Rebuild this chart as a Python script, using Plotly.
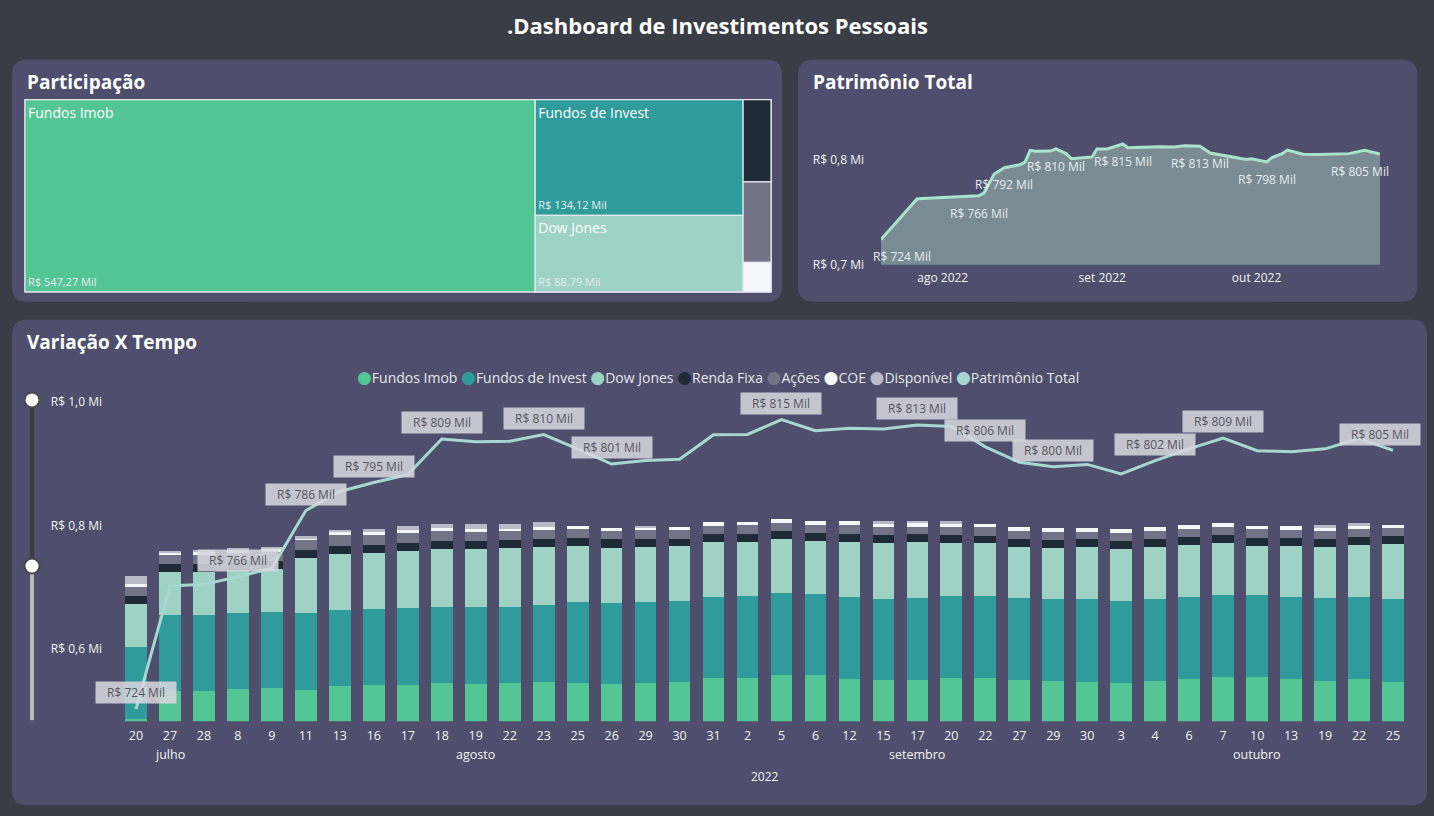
import plotly.graph_objects as go

W, H = 1434, 816
FONT = "Open Sans"

# the page photo maps figure y -> 0.9833*y + 5.4 ; positions below are given in photo pixels
SY, OY = 0.9833, 5.4


def px(x):
    return x / W


def py(y):
    return 1 - ((y - OY) / SY) / H


def dpy(d):
    return d / SY  # pixel distance in figure units


# ------------------------------------------------------------------ data
months = ["julho"] * 3 + ["agosto"] * 15 + ["setembro"] * 11 + ["outubro"] * 9
days = [20, 27, 28,
        8, 9, 11, 13, 16, 17, 18, 19, 22, 23, 25, 26, 29, 30, 31,
        2, 5, 6, 12, 15, 17, 20, 22, 27, 29, 30,
        3, 4, 6, 7, 10, 13, 19, 22, 25]
month_num = {"julho": 7, "agosto": 8, "setembro": 9, "outubro": 10}
year_label = "2022"

# components (R$ Mil)
fundos_imob = [486.1, 532.5, 532.5, 534.7, 537.4, 533.6, 540.1, 542.2, 542.2, 545.0,
               543.8, 545.4, 547.1, 545.4, 543.8, 545.4, 546.0, 553.5, 553.5, 558.4,
               557.9, 551.9, 550.3, 550.3, 553.5, 553.5, 549.8, 548.7, 547.1, 545.4,
               548.7, 551.9, 554.1, 554.7, 551.4, 548.7, 550.9, 547.3]
fundos_invest = [117.7, 122.5, 122.5, 123.1, 123.1, 124.1, 123.1, 123.1, 124.1, 123.6,
                 124.1, 123.1, 124.1, 131.1, 131.1, 131.1, 131.7, 131.1, 131.7, 131.7,
                 131.1, 131.7, 131.1, 132.8, 132.2, 132.2, 132.2, 132.2, 133.3, 132.8,
                 132.8, 132.8, 133.3, 132.8, 133.3, 133.3, 133.3, 134.1]
dow_jones = [69.1, 69.1, 69.1, 70.2, 69.1, 90.1, 90.7, 90.7, 92.3, 93.4,
             93.9, 94.4, 94.4, 89.6, 89.1, 89.1, 88.5, 88.5, 88.5, 88.0,
             86.4, 90.1, 90.1, 89.6, 85.3, 85.3, 83.7, 83.1, 84.2, 83.7,
             84.2, 84.2, 84.7, 79.9, 82.6, 83.7, 84.7, 88.8]
renda_fixa = [13.0, 13.0, 13.0, 13.0, 13.0, 13.0, 13.0, 13.0, 13.0, 12.4,
              13.0, 13.5, 12.4, 13.0, 13.5, 12.4, 12.4, 13.0, 13.0, 13.0,
              13.0, 13.0, 13.0, 13.0, 13.0, 12.4, 13.0, 12.4, 13.0, 13.0,
              12.4, 12.4, 13.0, 13.0, 13.0, 13.0, 13.0, 12.8]
acoes = [15.1, 14.6, 15.0, 15.0, 15.0, 15.1, 17.8, 15.7, 16.2, 17.3,
         15.1, 14.0, 15.1, 14.6, 13.5, 14.0, 14.0, 13.5, 13.5, 13.5,
         13.0, 13.5, 13.5, 12.4, 13.5, 13.5, 13.0, 13.0, 12.4, 13.0,
         13.5, 13.5, 13.0, 13.5, 13.0, 12.4, 11.9, 12.5]
coe = [4.3, 5.4, 5.5, 5.0, 5.0, 3.8, 4.3, 5.4, 4.3, 4.3,
       4.9, 4.3, 4.9, 5.4, 4.9, 5.4, 5.4, 5.4, 5.9, 5.4,
       5.4, 6.5, 5.9, 7.0, 5.4, 5.4, 5.4, 5.9, 5.4, 5.9,
       5.4, 5.4, 5.9, 5.9, 6.5, 4.9, 5.4, 5.0]
disponivel = [13.0, 0.5, 1.5, 2.0, 1.5, 2.7, 3.8, 4.3, 6.5, 6.5,
              7.0, 7.6, 7.0, 0.0, 0.0, 0.5, 0.0, 0.0, 0.0, 0.0,
              0.0, 0.0, 2.7, 2.7, 4.9, 0.0, 0.0, 0.0, 0.0, 0.0,
              0.0, 0.0, 0.0, 0.0, 0.0, 4.3, 5.4, 0.0]
patrimonio_total = [724.0, 762.7, 763.2, 765.6, 768.3, 786.4, 792.4, 795.2, 797.7, 808.9,
                    808.0, 808.2, 810.3, 805.8, 801.0, 802.1, 802.5, 810.2, 810.3, 815.0,
                    811.5, 812.3, 812.0, 813.3, 812.8, 806.4, 801.6, 800.2, 800.9, 797.9,
                    802.1, 805.8, 809.2, 805.2, 804.9, 805.8, 809.0, 805.3]
labels_bottom_idx = [0, 3, 5, 7, 9, 12, 14, 19, 23, 25, 27, 30, 32, 37]
labels_top_idx = [0, 3, 6, 12, 19, 24, 29, 37]

series_names = ["Fundos Imob", "Fundos de Invest", "Dow Jones", "Renda Fixa",
                "Ações", "COE", "Disponível"]
series_values = [fundos_imob, fundos_invest, dow_jones, renda_fixa, acoes, coe, disponivel]
series_colors = ["#54c594", "#309b9b", "#9dd2c5", "#1f2a37", "#727488", "#f6f7fb", "#b8bac8"]
line_color = "#a6d8d1"

# treemap (Participação)
tm_ids = ["root", "Fundos Imob", "g2", "Fundos de Invest", "Dow Jones",
          "g3", "Renda Fixa", "Ações", "COE"]
tm_parents = ["", "root", "root", "g2", "g2", "root", "g3", "g3", "g3"]
tm_values = [0, 547.27, 0, 134.12, 88.79, 0, 12.8, 12.5, 4.6]

# y-axis ticks
bar_ticks = [600, 800, 1000]
bar_ticktext = ["R$ 0,6 Mi", "R$ 0,8 Mi", "R$ 1,0 Mi"]
area_ticks = [700, 800]
area_ticktext = ["R$ 0,7 Mi", "R$ 0,8 Mi"]
area_month_ticks = ["2022-08-01", "2022-09-01", "2022-10-01"]
area_month_text = ["ago 2022", "set 2022", "out 2022"]

# ------------------------------------------------------------------ colours
BG = "#3a3c46"
PANEL = "#4f4f6d"
TXT = "#f2f2f2"

dates = [f"2022-{month_num[m]:02d}-{d:02d}" for m, d in zip(months, days)]
idx = list(range(len(days)))


def fmt_mil(v, dec=0):
    s = f"{v:.{dec}f}".replace(".", ",")
    return f"R$ {s} Mil"


fig = go.Figure()

# ------------------------------------------------------------------ treemap
panel_colors = {"root": PANEL, "g2": PANEL, "g3": PANEL}
leaf_colors = dict(zip(series_names, series_colors))
tm_colors = [panel_colors.get(i, leaf_colors.get(i, PANEL)) for i in tm_ids]
show_text = {"Fundos Imob", "Fundos de Invest", "Dow Jones"}
tm_top_text = [i if i in show_text else "" for i in tm_ids]
tm_bottom_text = [fmt_mil(v, 2) if i in show_text else "" for i, v in zip(tm_ids, tm_values)]

tm_domain = dict(x=[px(25), px(771)], y=[py(292), py(100)])
fig.add_trace(go.Treemap(
    ids=tm_ids, labels=tm_ids, parents=tm_parents, values=tm_values,
    branchvalues="remainder", sort=False,
    tiling=dict(packing="slice-dice", pad=0),
    marker=dict(colors=tm_colors, line=dict(color="#e4e6ee", width=1.2),
                pad=dict(t=0, l=0, r=0, b=0)),
    text=tm_top_text, texttemplate="%{text}", textposition="top left",
    textfont=dict(family=FONT, size=14, color="#ffffff"),
    pathbar=dict(visible=False), domain=tm_domain, hoverinfo="skip",
))
fig.add_trace(go.Treemap(
    ids=tm_ids, labels=tm_ids, parents=tm_parents, values=tm_values,
    branchvalues="remainder", sort=False,
    tiling=dict(packing="slice-dice", pad=0),
    marker=dict(colors=["rgba(0,0,0,0)"] * len(tm_ids), line=dict(width=0),
                pad=dict(t=0, l=0, r=0, b=0)),
    text=tm_bottom_text, texttemplate="%{text}", textposition="bottom left",
    textfont=dict(family=FONT, size=11, color="#e8ecef"),
    pathbar=dict(visible=False), domain=tm_domain, hoverinfo="skip",
))

# ------------------------------------------------------------------ area chart (Patrimônio Total)
fig.add_trace(go.Scatter(
    x=dates, y=patrimonio_total, mode="lines", xaxis="x", yaxis="y",
    line=dict(color="#a8e3cb", width=3), fill="tozeroy", fillcolor="#7a8b94",
    hoverinfo="skip",
))

annotations = []
for k, i in enumerate(labels_top_idx):
    xs = 0
    if k == 0:
        xs = 21
    elif k == len(labels_top_idx) - 1:
        xs = -20
    annotations.append(dict(
        x=dates[i], y=patrimonio_total[i], xref="x", yref="y", showarrow=False,
        text=fmt_mil(patrimonio_total[i]), yshift=-dpy(17), xshift=xs,
        font=dict(family=FONT, size=12, color="#e9ecef"),
    ))

# ------------------------------------------------------------------ stacked bars + line
for name, vals, col in zip(series_names, series_values, series_colors):
    fig.add_trace(go.Bar(
        x=idx, y=vals, name=name, marker=dict(color=col, line=dict(width=0)),
        xaxis="x2", yaxis="y2", hoverinfo="skip",
    ))
fig.add_trace(go.Scatter(
    x=idx, y=patrimonio_total, mode="lines", name="Patrimônio Total",
    line=dict(color=line_color, width=3), xaxis="x2", yaxis="y3", hoverinfo="skip",
))

for k, i in enumerate(labels_bottom_idx):
    annotations.append(dict(
        x=i, y=patrimonio_total[i], xref="x2", yref="y3", showarrow=False,
        text=fmt_mil(patrimonio_total[i]), yshift=dpy(16),
        xshift=-13 if k == len(labels_bottom_idx) - 1 else 0,
        font=dict(family=FONT, size=12, color="#55565e"),
        bgcolor="rgba(214,214,222,0.88)", width=74, height=15, borderpad=3,
    ))

# month labels centred under their days, year under all
for m in ["julho", "agosto", "setembro", "outubro"]:
    pos = [i for i, mm in zip(idx, months) if mm == m]
    annotations.append(dict(
        x=sum(pos) / len(pos), y=py(754), xref="x2", yref="paper", showarrow=False,
        text=m, font=dict(family=FONT, size=12.5, color=TXT), yanchor="middle",
    ))
annotations.append(dict(
    x=(idx[0] + idx[-1]) / 2, y=py(776), xref="x2", yref="paper", showarrow=False,
    text=year_label, font=dict(family=FONT, size=12, color=TXT), yanchor="middle",
))

# legend (text based, circle markers)
legend_names = series_names + ["Patrimônio Total"]
legend_colors = series_colors + [line_color]
legend_text = "&nbsp;".join(
    f"<span style='color:{c};font-family:DejaVu Sans;font-size:17px'>●</span>{n}"
    for n, c in zip(legend_names, legend_colors))
annotations.append(dict(
    x=px(718), y=py(377), xref="paper", yref="paper", showarrow=False,
    text=legend_text, font=dict(family=FONT, size=14, color="#e6e6ea"),
    xanchor="center", yanchor="middle",
))

# titles
annotations.append(dict(
    x=0.5, y=py(25), xref="paper", yref="paper", showarrow=False,
    text="<b>.Dashboard de Investimentos Pessoais</b>",
    font=dict(family=FONT, size=22, color="#ffffff"), yanchor="middle",
))
for t, xx, yy in [("Participação", 25, 82), ("Patrimônio Total", 811, 82), ("Variação X Tempo", 25, 342)]:
    annotations.append(dict(
        x=px(xx), y=py(yy), xref="paper", yref="paper", showarrow=False,
        text=f"<b>{t}</b>", font=dict(family=FONT, size=19, color="#ffffff"),
        xanchor="left", yanchor="middle",
    ))


# ------------------------------------------------------------------ shapes (panels, slider)
def rounded(l, t, r, b, rad=15):
    L, R, T, B = px(l), px(r), py(t), py(b)
    rx, ry = rad / W, rad / H
    return (f"M {L+rx},{T} L {R-rx},{T} Q {R},{T} {R},{T-ry} L {R},{B+ry} "
            f"Q {R},{B} {R-rx},{B} L {L+rx},{B} Q {L},{B} {L},{B+ry} "
            f"L {L},{T-ry} Q {L},{T} {L+rx},{T} Z")


shapes = []
for box in [(12, 60, 782, 302), (798, 60, 1417, 302), (12, 320, 1427, 805)]:
    shapes.append(dict(type="path", path=rounded(*box), xref="paper", yref="paper",
                       fillcolor=PANEL, line=dict(width=0), layer="below"))
# zoom slider
shapes.append(dict(type="line", x0=px(32), x1=px(32), y0=py(400), y1=py(566), xref="paper",
                   yref="paper", line=dict(color="#3c3c40", width=4)))
shapes.append(dict(type="line", x0=px(32), x1=px(32), y0=py(566), y1=py(720), xref="paper",
                   yref="paper", line=dict(color="#b9b9bd", width=4)))
for cy in [400, 566]:
    shapes.append(dict(type="circle", x0=px(24.5), x1=px(39.5), y0=py(cy + 7.5), y1=py(cy - 7.5),
                       xref="paper", yref="paper", fillcolor="#ffffff",
                       line=dict(color="#4a4a4e", width=2)))

# ------------------------------------------------------------------ layout
fig.update_layout(
    width=W, height=H, margin=dict(l=0, r=0, t=0, b=0),
    paper_bgcolor=BG, plot_bgcolor="rgba(0,0,0,0)",
    showlegend=False, barmode="stack", bargap=0.36,
    font=dict(family=FONT, color=TXT, size=12),
    annotations=annotations, shapes=shapes,
    xaxis=dict(domain=[px(881), px(1380)], range=["2022-07-20", "2022-10-25"],
               type="date", anchor="y", tickvals=area_month_ticks, ticktext=area_month_text,
               showgrid=False, zeroline=False, showline=False, ticklabelstandoff=4,
               tickfont=dict(family=FONT, size=12, color=TXT)),
    yaxis=dict(domain=[py(265), py(128.5)], range=[700, 830], anchor="x",
               tickvals=area_ticks, ticktext=area_ticktext, showgrid=False, zeroline=False,
               ticklabelstandoff=16, tickfont=dict(family=FONT, size=12, color=TXT)),
    xaxis2=dict(domain=[px(119), px(1410)], range=[-0.5, len(days) - 0.5], anchor="y2",
                tickvals=idx, ticktext=[str(d) for d in days], showgrid=False,
                zeroline=False, showline=False, ticklabelstandoff=5,
                tickfont=dict(family=FONT, size=12.5, color=TXT)),
    yaxis2=dict(domain=[py(721), py(398)], range=[483.4, 1006.5], anchor="x2",
                tickvals=bar_ticks, ticktext=bar_ticktext, showgrid=False, zeroline=False,
                ticklabelstandoff=16, tickfont=dict(family=FONT, size=12, color=TXT)),
    yaxis3=dict(domain=[py(721), py(398)], range=[720.2, 821.8], overlaying="y2",
                anchor="x2", side="right", visible=False, showgrid=False, zeroline=False),
)

fig.write_html("out.html", config={"displayModeBar": False},
               post_script="document.body.style.margin='0';")
